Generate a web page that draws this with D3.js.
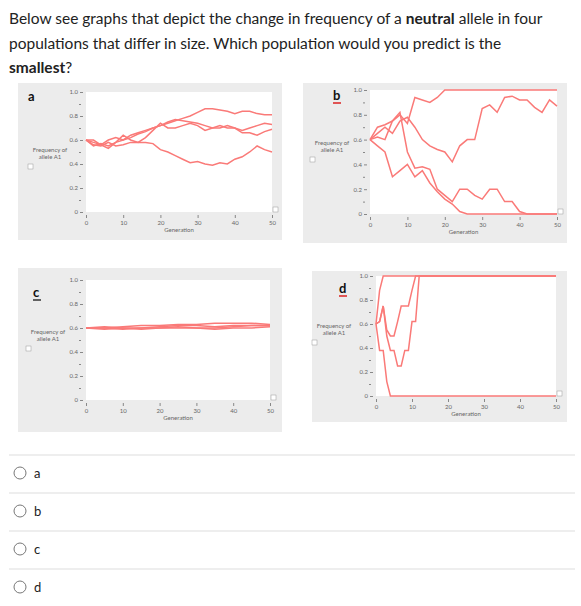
<!DOCTYPE html>
<html><head><meta charset="utf-8">
<script src="https://cdn.jsdelivr.net/npm/d3@7"></script>
<style>body{margin:0;background:#fff;font-family:Lato,sans-serif}</style>
</head><body><svg id="s" width="581" height="606"></svg>
<script>
const gensA=d3.range(0,51,2);
const a1=[0.6,0.58,0.56,0.6,0.62,0.6,0.64,0.66,0.68,0.7,0.72,0.74,0.76,0.78,0.8,0.83,0.86,0.86,0.85,0.84,0.82,0.84,0.84,0.82,0.81,0.81];
const a2=[0.6,0.55,0.57,0.55,0.58,0.6,0.62,0.65,0.67,0.7,0.72,0.75,0.77,0.76,0.75,0.74,0.72,0.7,0.72,0.7,0.7,0.68,0.7,0.72,0.74,0.73];
const a3=[0.6,0.6,0.56,0.53,0.58,0.64,0.6,0.58,0.62,0.68,0.74,0.7,0.7,0.72,0.74,0.72,0.68,0.7,0.7,0.72,0.7,0.66,0.66,0.64,0.67,0.69];
const a4=[0.6,0.56,0.55,0.58,0.55,0.56,0.58,0.58,0.58,0.57,0.52,0.5,0.47,0.44,0.41,0.42,0.4,0.39,0.41,0.4,0.44,0.46,0.5,0.55,0.52,0.5];
const gensB=d3.range(0,51,2);
const b1=[0.6,0.7,0.72,0.75,0.8,0.73,0.94,0.92,0.9,0.94,1,1,1,1,1,1,1,1,1,1,1,1,1,1,1,1];
const b2=[0.6,0.65,0.7,0.65,0.75,0.78,0.7,0.6,0.55,0.52,0.5,0.42,0.55,0.6,0.6,0.85,0.88,0.82,0.94,0.95,0.92,0.92,0.86,0.82,0.92,0.87];
const b3=[0.6,0.55,0.5,0.3,0.35,0.4,0.3,0.35,0.25,0.18,0.12,0.08,0.02,0,0,0,0,0,0,0,0,0,0,0,0,0];
const b4=[0.6,0.62,0.6,0.75,0.82,0.5,0.37,0.38,0.36,0.2,0.15,0.1,0.2,0.2,0.15,0.12,0.2,0.2,0.1,0.1,0.02,0,0,0,0,0];
const gensC=d3.range(0,51,5);
const c1=[0.6,0.6,0.61,0.62,0.62,0.63,0.63,0.64,0.64,0.64,0.63];
const c2=[0.6,0.61,0.6,0.6,0.61,0.62,0.62,0.61,0.62,0.62,0.62];
const c3=[0.6,0.6,0.59,0.6,0.6,0.61,0.6,0.6,0.61,0.62,0.62];
const c4=[0.6,0.59,0.6,0.59,0.6,0.6,0.6,0.59,0.6,0.6,0.61];
const gensD=[0,1,2,3,4,5,6,7,8,9,10,11,12,13,50];
const d1=[0.6,0.88,1,1,1,1,1,1,1,1,1,1,1,1,1];
const d2=[0.6,0.62,0.75,0.55,0.5,0.5,0.62,0.75,0.75,0.75,0.88,1,1,1,1];
const d3v=[0.6,0.62,0.75,0.5,0.38,0.38,0.25,0.25,0.38,0.38,0.62,0.62,1,1,1];
const d4=[0.6,0.38,0.38,0.12,0,0,0,0,0,0,0,0,0,0,0];
const xTicks=[0,10,20,30,40,50];
const yTicks=[0,0.2,0.4,0.6,0.8,1.0];
const question=["Below see graphs that depict the change in frequency of a |neutral| allele in four","populations that differ in size.  Which population would you predict is the","|smallest|?"];
const options=["a","b","c","d"];

const svg=d3.select("#s");
const panels=[
 {l:"a",ul:false,bg:[18,83,264,157],x:[86,272],y:[92,212],lab:[50,152],g:gensA,s:[a1,a2,a3,a4],lt:[28,101]},
 {l:"b",ul:true,uc:"#d22",bg:[303,83,264,160],x:[370,557],y:[90,214],lab:[332,145],g:gensB,s:[b1,b2,b3,b4],lt:[333,100]},
 {l:"c",ul:true,uc:"#333",bg:[18,268,264,164],x:[86,270],y:[280,400],lab:[48,334],g:gensC,s:[c1,c2,c3,c4],lt:[33,297]},
 {l:"d",ul:true,uc:"#d22",bg:[312,271,255,151],x:[376,556],y:[276,396],lab:[334,328],g:gensD,s:[d1,d2,d3v,d4],lt:[339,293]}
];
const isMajor=v=>yTicks.some(t=>Math.abs(t-v)<1e-6);
panels.forEach(p=>{
 const g=svg.append("g");
 g.append("rect").attr("x",p.bg[0]).attr("y",p.bg[1]).attr("width",p.bg[2]).attr("height",p.bg[3]).attr("fill","#ececec");
 const x=d3.scaleLinear().domain([0,50]).range(p.x), y=d3.scaleLinear().domain([0,1]).range([p.y[1],p.y[0]]);
 g.append("rect").attr("x",p.x[0]).attr("y",p.y[0]).attr("width",p.x[1]-p.x[0]).attr("height",p.y[1]-p.y[0]).attr("fill","#fff");
 const ya=g.append("g").attr("transform",`translate(${p.x[0]-3},0)`).call(d3.axisLeft(y).tickValues(d3.range(0,1.01,0.1)).tickSize(3).tickPadding(2).tickFormat(v=>isMajor(v)?(Math.abs(v-1)<1e-6?"1.0":v===0?"0":d3.format(".1f")(v)):""));
 ya.selectAll(".tick").filter(v=>!isMajor(v)).select("line").attr("x2",-2).attr("x1",-4);
 const xa=g.append("g").attr("transform",`translate(0,${p.y[1]+3})`).call(d3.axisBottom(x).tickValues(xTicks).tickSize(3));
 [ya,xa].forEach(a=>{a.select(".domain").remove();a.selectAll("text").attr("font-size",6).attr("fill","#666").attr("font-family","Lato");a.selectAll("line").attr("stroke","#888");});
 g.append("text").attr("x",(p.x[0]+p.x[1])/2).attr("y",p.y[1]+20).attr("text-anchor","middle").attr("font-size",6).attr("fill","#666").text("Generation");
 g.append("text").attr("x",p.lab[0]).attr("y",p.lab[1]).attr("text-anchor","middle").attr("font-size",6).attr("fill","#666").text("Frequency of");
 g.append("text").attr("x",p.lab[0]).attr("y",p.lab[1]+7).attr("text-anchor","middle").attr("font-size",6).attr("fill","#666").text("allele A1");
 g.append("rect").attr("x",p.lab[0]-22).attr("y",p.lab[1]+12).attr("width",5).attr("height",5).attr("fill","#fff").attr("stroke","#999").attr("stroke-width",0.5);
 g.append("rect").attr("x",p.x[1]+1).attr("y",p.y[1]-5).attr("width",5).attr("height",5).attr("fill","#fff").attr("stroke","#999").attr("stroke-width",0.5);
 const line=d3.line().x((d,i)=>x(p.g[i])).y(d=>y(d));
 p.s.forEach(s=>g.append("path").attr("d",line(s)).attr("fill","none").attr("stroke","#fa7a78").attr("stroke-width",1.5));
 g.append("text").attr("x",p.lt[0]).attr("y",p.lt[1]).attr("font-size",13).attr("font-weight","bold").attr("fill","#111").text(p.l);
 if(p.ul) g.append("line").attr("x1",p.lt[0]).attr("x2",p.lt[0]+8).attr("y1",p.lt[1]+3).attr("y2",p.lt[1]+3).attr("stroke",p.uc).attr("stroke-width",1.5);
});
question.forEach((q,i)=>{
 const t=svg.append("text").attr("x",9).attr("y",24+i*24.5).attr("font-size",15.5).attr("fill","#222");
 q.split("|").forEach((s,j)=>t.append("tspan").attr("font-weight",j%2?"bold":"normal").text(s));
});
options.forEach((o,i)=>{
 const yy=455+i*38;
 svg.append("line").attr("x1",9).attr("x2",575).attr("y1",yy).attr("y2",yy).attr("stroke","#ddd");
 svg.append("circle").attr("cx",20).attr("cy",yy+18).attr("r",6).attr("fill","#fff").attr("stroke","#777");
 svg.append("text").attr("x",34).attr("y",yy+23).attr("font-size",13).attr("fill","#222").text(o);
});
</script></body></html>
